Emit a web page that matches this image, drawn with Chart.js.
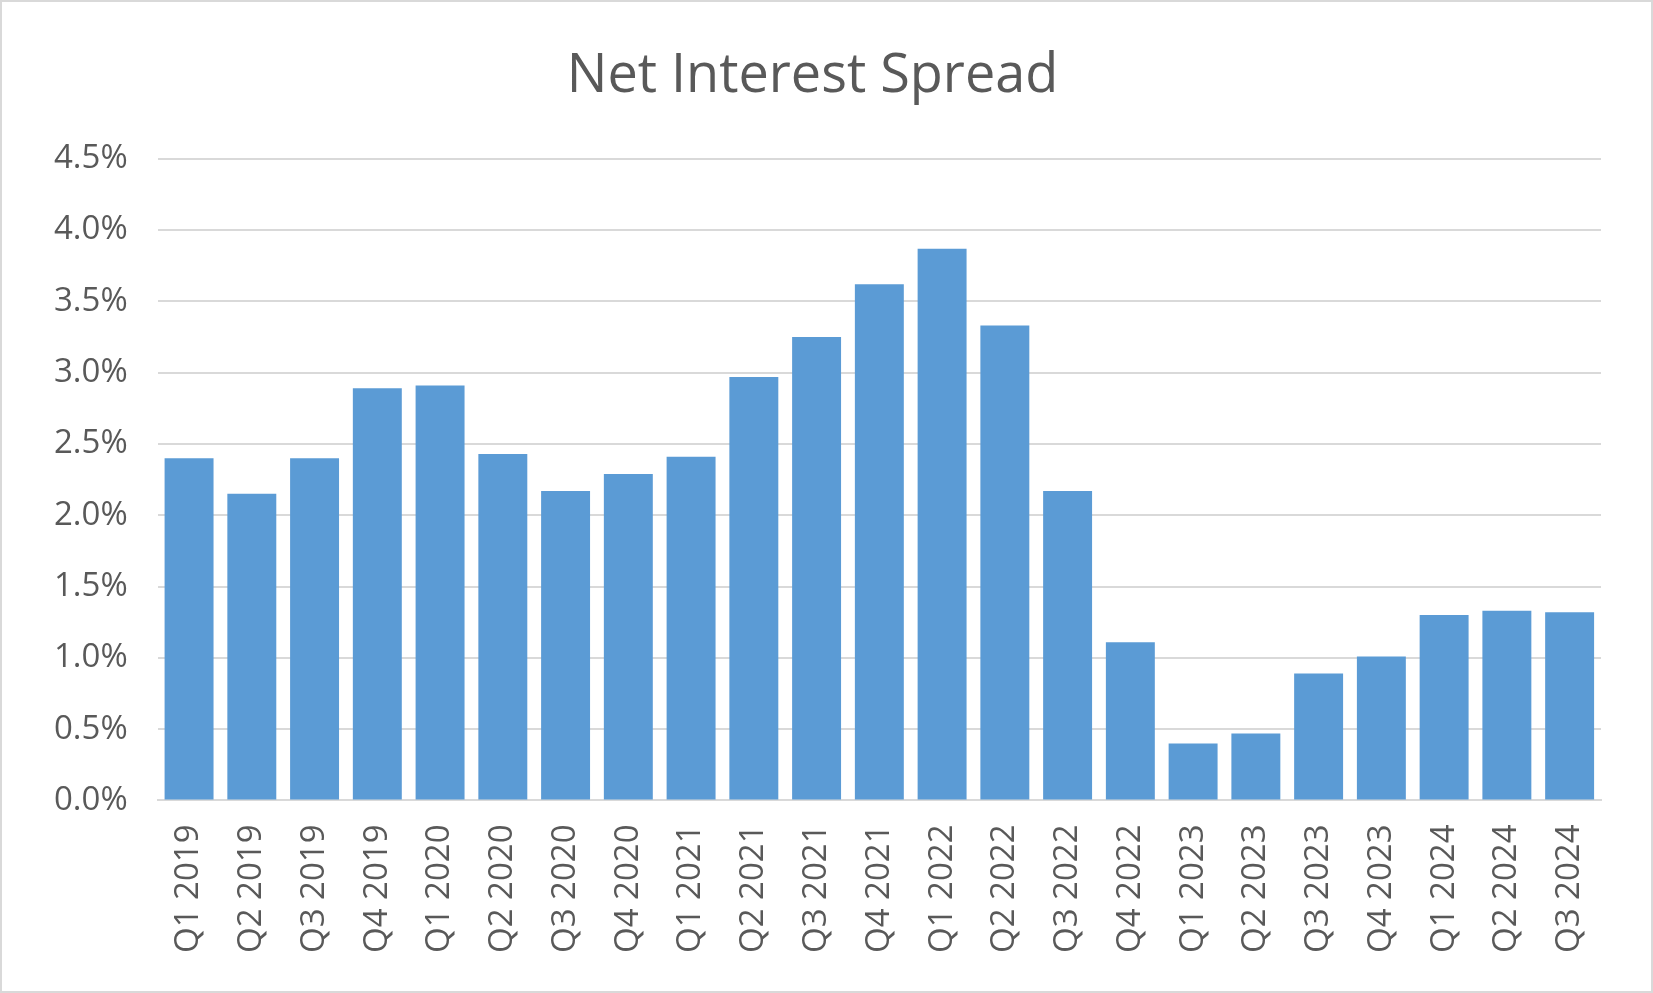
<!DOCTYPE html>
<html>
<head>
<meta charset="utf-8">
<script src="https://cdn.jsdelivr.net/npm/chart.js@4"></script>
<style>
  html, body { margin: 0; padding: 0; background: #fff; }
  #wrap { width: 1649px; height: 989px; border: 2px solid #d9d9d9; }
</style>
</head>
<body>
<div id="wrap"><canvas id="myChart"></canvas></div>
<script>
const quarters = ['Q1 2019', 'Q2 2019', 'Q3 2019', 'Q4 2019', 'Q1 2020', 'Q2 2020', 'Q3 2020', 'Q4 2020',
  'Q1 2021', 'Q2 2021', 'Q3 2021', 'Q4 2021', 'Q1 2022', 'Q2 2022', 'Q3 2022', 'Q4 2022',
  'Q1 2023', 'Q2 2023', 'Q3 2023', 'Q4 2023', 'Q1 2024', 'Q2 2024', 'Q3 2024'];
const spread = [2.40, 2.15, 2.40, 2.89, 2.91, 2.43, 2.17, 2.29,
  2.41, 2.97, 3.25, 3.62, 3.87, 3.33, 2.17, 1.11,
  0.40, 0.47, 0.89, 1.01, 1.30, 1.33, 1.32];

const ctx = document.getElementById('myChart');
ctx.width = 1649;
ctx.height = 989;

new Chart(ctx, {
  type: 'bar',
  data: {
    labels: quarters,
    datasets: [{
      label: 'Net Interest Spread',
      data: spread,
      backgroundColor: '#5B9BD5',
      barPercentage: 0.78,
      categoryPercentage: 1
    }]
  },
  options: {
    responsive: false,
    animation: false,
    layout: { padding: { left: 22, right: 50, top: 20, bottom: 22 } },
    plugins: {
      legend: { display: false },
      title: {
        display: true,
        text: 'Net Interest Spread',
        color: '#595959',
        font: { family: 'Open Sans', size: 54, weight: 'normal' },
        padding: { top: 22, bottom: 50 }
      }
    },
    scales: {
      y: {
        min: 0,
        max: 4.5,
        ticks: {
          stepSize: 0.5,
          color: '#595959',
          font: { family: 'Open Sans', size: 33 },
          padding: 30,
          callback: v => v.toFixed(1) + '%'
        },
        grid: { color: '#d9d9d9', lineWidth: 2, drawTicks: false },
        border: { display: false }
      },
      x: {
        ticks: {
          color: '#595959',
          font: { family: 'Open Sans', size: 33 },
          maxRotation: 90,
          minRotation: 90,
          padding: 16
        },
        grid: { display: false },
        border: { color: '#d9d9d9', width: 2 }
      }
    }
  }
});
</script>
</body>
</html>
